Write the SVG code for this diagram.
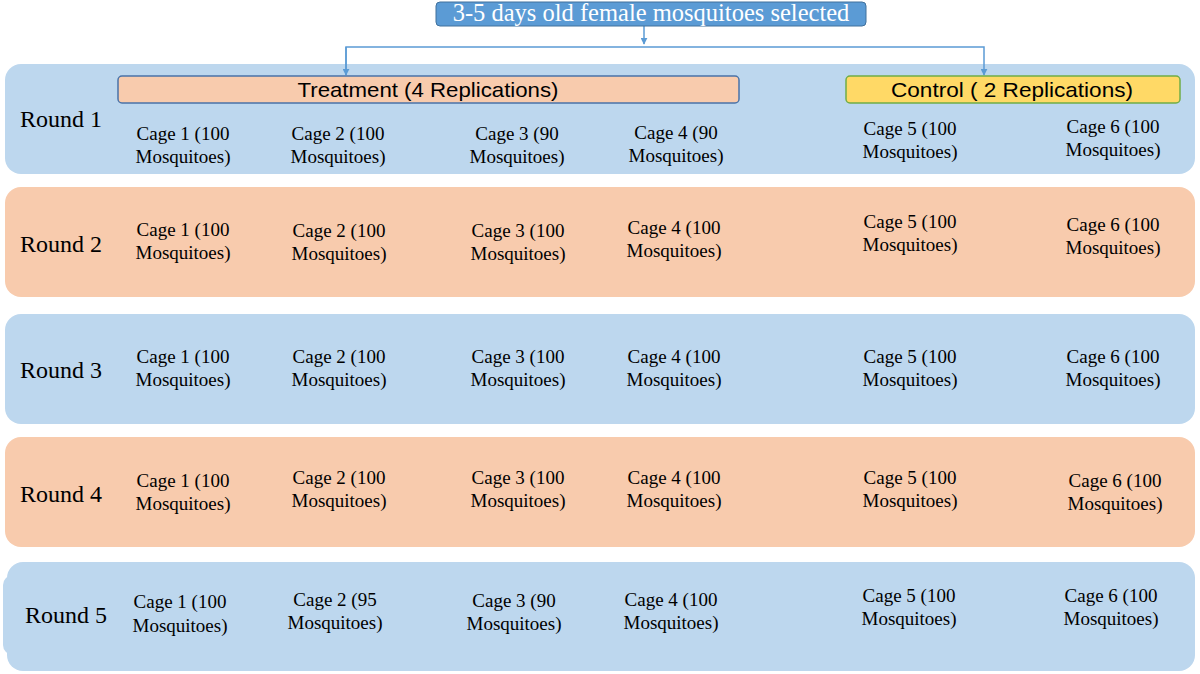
<svg xmlns="http://www.w3.org/2000/svg" width="1200" height="674" viewBox="0 0 1200 674">
<defs>
<style>
.blue{fill:#bdd7ee}
.peach{fill:#f8cbad}
.cage{font-family:"Liberation Serif",serif;font-size:19px;fill:#000;text-anchor:middle}
.round{font-family:"Liberation Serif",serif;font-size:24px;fill:#000}
.conn{stroke:#5b9bd5;stroke-width:1.5;fill:none}
.hdr{font-family:"Liberation Sans",sans-serif;font-size:21px;fill:#000;text-anchor:middle}
</style>
<marker id="ah" viewBox="0 0 10 10" refX="9" refY="5" markerWidth="7" markerHeight="7" orient="auto" markerUnits="userSpaceOnUse">
<path d="M0,0 L10,5 L0,10 z" fill="#5b9bd5"/>
</marker>
</defs>
<rect width="1200" height="674" fill="#fff"/>

<g id="round1">
<rect class="blue" x="5" y="64" width="1190" height="110" rx="16"/>
<text class="round" x="20" y="127">Round 1</text>
<text class="cage" x="183" y="140">Cage 1 (100<tspan x="183" y="163">Mosquitoes)</tspan></text>
<text class="cage" x="338" y="140">Cage 2 (100<tspan x="338" y="163">Mosquitoes)</tspan></text>
<text class="cage" x="517" y="140">Cage 3 (90<tspan x="517" y="163">Mosquitoes)</tspan></text>
<text class="cage" x="676" y="139">Cage 4 (90<tspan x="676" y="162">Mosquitoes)</tspan></text>
<text class="cage" x="910" y="135">Cage 5 (100<tspan x="910" y="158">Mosquitoes)</tspan></text>
<text class="cage" x="1113" y="133">Cage 6 (100<tspan x="1113" y="156">Mosquitoes)</tspan></text>
</g>

<g id="round2">
<rect class="peach" x="5" y="187" width="1190" height="110" rx="16"/>
<text class="round" x="20" y="252">Round 2</text>
<text class="cage" x="183" y="236">Cage 1 (100<tspan x="183" y="259">Mosquitoes)</tspan></text>
<text class="cage" x="339" y="237">Cage 2 (100<tspan x="339" y="260">Mosquitoes)</tspan></text>
<text class="cage" x="518" y="237">Cage 3 (100<tspan x="518" y="260">Mosquitoes)</tspan></text>
<text class="cage" x="674" y="234">Cage 4 (100<tspan x="674" y="257">Mosquitoes)</tspan></text>
<text class="cage" x="910" y="228">Cage 5 (100<tspan x="910" y="251">Mosquitoes)</tspan></text>
<text class="cage" x="1113" y="231">Cage 6 (100<tspan x="1113" y="254">Mosquitoes)</tspan></text>
</g>

<g id="round3">
<rect class="blue" x="5" y="314" width="1190" height="110" rx="16"/>
<text class="round" x="20" y="378">Round 3</text>
<text class="cage" x="183" y="363">Cage 1 (100<tspan x="183" y="386">Mosquitoes)</tspan></text>
<text class="cage" x="339" y="363">Cage 2 (100<tspan x="339" y="386">Mosquitoes)</tspan></text>
<text class="cage" x="518" y="363">Cage 3 (100<tspan x="518" y="386">Mosquitoes)</tspan></text>
<text class="cage" x="674" y="363">Cage 4 (100<tspan x="674" y="386">Mosquitoes)</tspan></text>
<text class="cage" x="910" y="363">Cage 5 (100<tspan x="910" y="386">Mosquitoes)</tspan></text>
<text class="cage" x="1113" y="363">Cage 6 (100<tspan x="1113" y="386">Mosquitoes)</tspan></text>
</g>

<g id="round4">
<rect class="peach" x="5" y="437" width="1190" height="110" rx="16"/>
<text class="round" x="20" y="502">Round 4</text>
<text class="cage" x="183" y="487">Cage 1 (100<tspan x="183" y="510">Mosquitoes)</tspan></text>
<text class="cage" x="339" y="484">Cage 2 (100<tspan x="339" y="507">Mosquitoes)</tspan></text>
<text class="cage" x="518" y="484">Cage 3 (100<tspan x="518" y="507">Mosquitoes)</tspan></text>
<text class="cage" x="674" y="484">Cage 4 (100<tspan x="674" y="507">Mosquitoes)</tspan></text>
<text class="cage" x="910" y="484">Cage 5 (100<tspan x="910" y="507">Mosquitoes)</tspan></text>
<text class="cage" x="1115" y="487">Cage 6 (100<tspan x="1115" y="510">Mosquitoes)</tspan></text>
</g>

<g id="round5">
<rect class="blue" x="3" y="575" width="40" height="80" rx="10"/>
<rect class="blue" x="7" y="562" width="1188" height="109" rx="16"/>
<text class="round" x="25" y="623">Round 5</text>
<text class="cage" x="180" y="608">Cage 1 (100<tspan x="180" y="632">Mosquitoes)</tspan></text>
<text class="cage" x="335" y="606">Cage 2 (95<tspan x="335" y="629">Mosquitoes)</tspan></text>
<text class="cage" x="514" y="607">Cage 3 (90<tspan x="514" y="630">Mosquitoes)</tspan></text>
<text class="cage" x="671" y="606">Cage 4 (100<tspan x="671" y="629">Mosquitoes)</tspan></text>
<text class="cage" x="909" y="602">Cage 5 (100<tspan x="909" y="625">Mosquitoes)</tspan></text>
<text class="cage" x="1111" y="602">Cage 6 (100<tspan x="1111" y="625">Mosquitoes)</tspan></text>
</g>

<g id="connectors">
<line class="conn" x1="644" y1="26" x2="644" y2="44" marker-end="url(#ah)"/>
<polyline class="conn" points="346,75 346,47 984,47 984,75" marker-end="url(#ah)"/>
<line class="conn" x1="346" y1="47" x2="346" y2="75" marker-end="url(#ah)"/>
</g>

<g id="top">
<rect x="436" y="2" width="430" height="24" rx="4" fill="#5b9bd5" stroke="#41719c" stroke-width="1"/>
<text x="651" y="21" font-family="Liberation Serif, serif" font-size="24.5px" fill="#fff" text-anchor="middle">3-5 days old female mosquitoes selected</text>
</g>

<g id="treatment">
<rect x="118" y="76" width="621" height="27" rx="4" fill="#f8cbad" stroke="#4a73a8" stroke-width="1.5"/>
<text class="hdr" x="428" y="97" textLength="261" lengthAdjust="spacingAndGlyphs">Treatment (4 Replications)</text>
</g>

<g id="control">
<rect x="846" y="76" width="334" height="27" rx="4" fill="#ffd966" stroke="#70ad47" stroke-width="1.5"/>
<text class="hdr" x="1012" y="97" textLength="242" lengthAdjust="spacingAndGlyphs">Control ( 2 Replications)</text>
</g>
</svg>
